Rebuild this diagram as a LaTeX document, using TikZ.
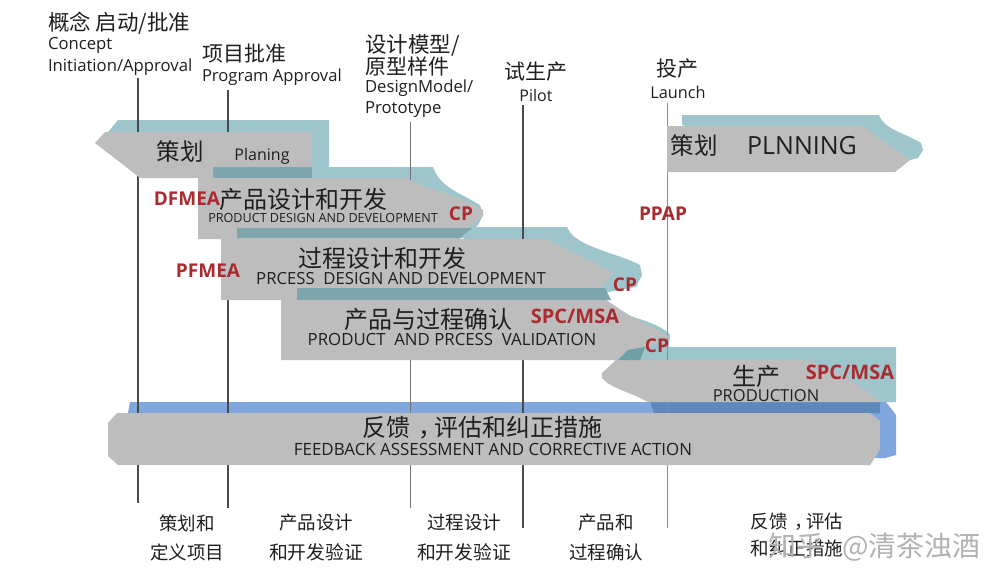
\documentclass[tikz,border=0pt]{standalone}
\usepackage{fontspec}
\setmainfont{Open Sans}
\newfontfamily\cjk{Noto Sans CJK SC}
\definecolor{barGrey}{HTML}{BEBDBD}
\definecolor{barTeal}{HTML}{9DC5CB}
\definecolor{barDark}{HTML}{7FA6AE}
\definecolor{bandBlue}{HTML}{7FA7DE}
\definecolor{bandDark}{HTML}{5E87BC}
\definecolor{redLabel}{HTML}{A92B30}
\definecolor{lineGrey}{HTML}{4A4A4A}
\tikzset{
  txt/.style={inner sep=0pt,outer sep=0pt,text=black!88},
  cn/.style={txt,font=\cjk\fontsize{#1}{#1}\selectfont},
  en/.style={txt,font=\fontsize{#1}{#1}\selectfont},
  red/.style={inner sep=0pt,text=redLabel,font=\bfseries\fontsize{#1}{#1}\selectfont},
  milestone/.style={lineGrey,line width=1.1pt},
}
\newcommand{\midcomma}{\hspace{.36em}，\hspace{-.36em}}
\begin{document}
\begin{tikzpicture}[x=1pt,y=-1pt]
\useasboundingbox[fill=white] (0,0) rectangle (1006,587);
% teal backs
\fill[barTeal] (108,132) -- (118,120) -- (329,120) -- (329,167) -- (433,167)
  .. controls (440,187) and (458,192) .. (480,205) -- (483,215) -- (478,225) -- (463,238) -- (300,238) -- (213,178) -- cycle;
\fill[barTeal] (460,227) -- (567,227) .. controls (575,247) and (615,252) .. (640,265) -- (642,275) -- (636,287) -- (608,292) -- (480,290) -- cycle;
\fill[barTeal] (600,296) -- (630,316) .. controls (650,322) and (665,328) .. (670,335) -- (669,347) -- (896,347) -- (896,402) -- (650,402) -- (610,340) -- cycle;
\fill[barTeal] (682,125) -- (682,115) -- (879,115) .. controls (885,130) and (905,133) .. (921,143) -- (923,150) -- (918,158) -- (906,161) -- (890,170) -- (800,160) -- cycle;
% blue band
\fill[bandBlue] (128,413) -- (130,402) -- (886,402) -- (896,415) -- (896,455) -- (885,458) -- (878,458) -- (600,430) -- cycle;
\fill[bandDark] (650,402) -- (880,402) -- (880,413) -- (654,413) -- cycle;
% milestones
\coordinate (m1a) at (138,78);  \coordinate (m1b) at (138,503);
\coordinate (m2a) at (228,90);  \coordinate (m2b) at (228,508);
\coordinate (m3a) at (410,122); \coordinate (m3b) at (410,508);
\coordinate (m4a) at (523,105); \coordinate (m4b) at (523,528);
\coordinate (m5a) at (667,103); \coordinate (m5b) at (667,528);
\draw[milestone] (m1a) -- (m1b);
\draw[milestone] (m2a) -- (m2b);
\draw[milestone,line width=.8pt,black!55] (m3a) -- (m3b);
\draw[milestone,line width=1.5pt] (m4a) -- (m4b);
\draw[milestone,line width=.8pt,black!45] (m5a) -- (m5b);
% grey bars
\fill[barGrey] (95,143) -- (105,132) -- (312,132) -- (312,178) -- (140,178) -- (130,170) -- cycle;
\fill[barGrey] (198,178) -- (407,178) .. controls (425,190) and (460,195) .. (483,210) -- (483,216) -- (470,226) -- (460,239) -- (198,239) -- cycle;
\fill[barGrey] (221,239) -- (547,239) .. controls (565,250) and (595,262) .. (613,273) -- (602,288) -- (605,300) -- (221,300) -- cycle;
\fill[barGrey] (281,300) -- (606,300) .. controls (625,315) and (650,325) .. (670,337) -- (647,347) -- (618,360) -- (281,360) -- cycle;
\fill[barGrey] (667,126) -- (682,126) -- (863,126) .. controls (875,137) and (890,145) .. (910,160) -- (895,172) -- (667,172) -- cycle;
\fill[barGrey] (602,373) -- (616,360) -- (805,360) .. controls (835,368) and (860,385) .. (880,402) -- (648,402) .. controls (630,392) and (610,388) .. (602,378) -- cycle;
\fill[barGrey] (108,423) -- (117,413) -- (870,413) -- (880,421) -- (880,450) -- (870,465) -- (118,465) -- (108,456) -- cycle;
% dark shadows
\fill[barDark] (213,167) -- (312,167) -- (312,178) -- (213,178) -- cycle;
\fill[barDark] (237,228) -- (472,228) -- (460,238) -- (237,238) -- cycle;
\fill[barDark] (297,288) -- (605,288) -- (611,300) -- (297,300) -- cycle;
\fill[barDark!85!teal] (618,360) -- (628,350) -- (645,347) -- (640,360) -- cycle;
% top labels
\node[cn=21.5,anchor=west] (t1) at (48,23) {概念 启动/批准};
\node[en=16.7,anchor=west] (t2) at (48,45) {Concept};
\node[en=16.7,anchor=west] (t3) at (48,67) {Initiation/Approval};
\node[cn=21,anchor=west] (t4) at (202,54) {项目批准};
\node[en=16.6,anchor=west] (t5) at (202,77) {Program Approval};
\node[cn=21.5,anchor=west] (t6) at (365,45) {设计模型/};
\node[cn=21,anchor=west] (t7) at (365,66) {原型样件};
\node[en=16.7,anchor=west] (t8) at (365,88) {DesignModel/};
\node[en=16.7,anchor=west] (t9) at (365,110) {Prototype};
\node[cn=21,anchor=west] (t10) at (504,72) {试生产};
\node[en=16] (t11) at (536,95) {Pilot};
\node[cn=21,anchor=west] (t12) at (656,69) {投产};
\node[en=16.3] (t13) at (678,92) {Launch};
% bar labels
\node[cn=23.5] (b1) at (180,152) {策划};
\node[en=16] (b2) at (262,156) {Planing};
\node[red=19] (r1) at (187,199) {DFMEA};
\node[cn=24] (b3) at (303,199) {产品设计和开发};
\node[en=12.6] (b4) at (323,218) {PRODUCT DESIGN AND DEVELOPMENT};
\node[red=19] (r2) at (461,214) {CP};
\node[red=19] (r3) at (208,271) {PFMEA};
\node[cn=24] (b5) at (382,258) {过程设计和开发};
\node[en=16.7] (b6) at (401,279) {PRCESS\ \ DESIGN AND DEVELOPMENT};
\node[red=19] (r4) at (625,285) {CP};
\node[red=19] (r5) at (663,214) {PPAP};
\node[cn=24] (b7) at (428,319) {产品与过程确认};
\node[red=20] (r6) at (575,316) {SPC/MSA};
\node[en=16.8] (b8) at (452,339) {PRODUCT\ \ AND PRCESS\ \ VALIDATION};
\node[red=19] (r7) at (657,346) {CP};
\node[cn=24] (b9) at (756,376) {生产};
\node[en=16.5] (b10) at (766,396) {PRODUCTION};
\node[red=20] (r8) at (850,372) {SPC/MSA};
\node[cn=24] (b11) at (482,428) {反馈\midcomma 评估和纠正措施};
\node[en=16.9] (b12) at (493,449) {FEEDBACK ASSESSMENT AND CORRECTIVE ACTION};
\node[cn=23.5] (b13) at (694,146) {策划};
\node[en=25] (b14) at (802,146) {PLNNING};
% bottom labels
\node[cn=18.5] (c1) at (187,523) {策划和};
\node[cn=18.5] (c2) at (187,552) {定义项目};
\node[cn=18.5] (c3) at (316,523) {产品设计};
\node[cn=18.8] (c4) at (316,552) {和开发验证};
\node[cn=18.5] (c5) at (464,523) {过程设计};
\node[cn=18.8] (c6) at (464,552) {和开发验证};
\node[cn=18.5] (c7) at (606,523) {产品和};
\node[cn=18.5] (c8) at (606,552) {过程确认};
\node[cn=18.5] (c9) at (797,522) {反馈\midcomma 评估};
\node[cn=18.5] (c10) at (797,548) {和纠正措施};
\node[cn=28,text=black!30,anchor=east] (w) at (981,547) {知乎\hspace{.65em}@清茶浊酒};
\end{tikzpicture}
\end{document}
